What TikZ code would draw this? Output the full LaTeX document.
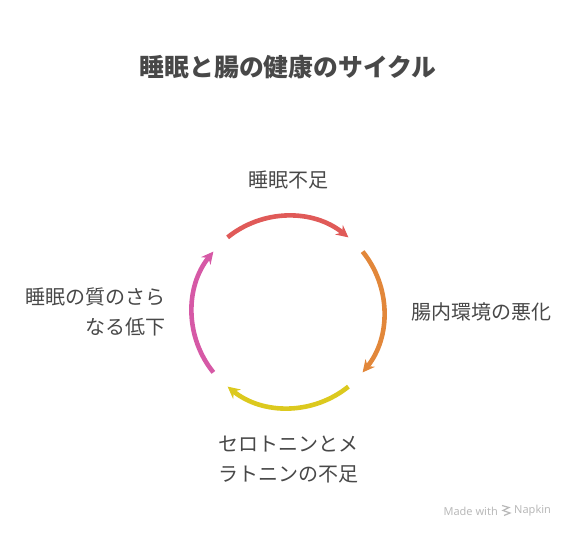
\documentclass[tikz,border=0pt]{standalone}
\usepackage{fontspec}
\setmainfont{Noto Sans CJK JP}
\newfontfamily\latinfont{Noto Sans}
\usetikzlibrary{arrows.meta,calc,positioning}
\definecolor{arcred}{HTML}{E05A58}
\definecolor{arcorange}{HTML}{E2873A}
\definecolor{arcyellow}{HTML}{DCC91E}
\definecolor{arcpink}{HTML}{D659A6}
\definecolor{textgray}{HTML}{484848}
\tikzset{
    cyclearc/.style={line width=4.6pt,-{Stealth[length=12pt,width=12pt]}},
    steplabel/.style={text=textgray,font=\fontsize{20}{30}\selectfont,inner sep=0pt,align=center},
    every node/.style={inner sep=0pt}
}

\begin{document}
\begin{tikzpicture}[x=1pt,y=1pt]
  \useasboundingbox (0,0) rectangle (576,538);

  % 中心
  \coordinate (C) at (288,226);

  % タイトル
  \node[text=textgray,font=\fontsize{24.8}{28}\selectfont\bfseries]
    (title) at (288,471) {睡眠と腸の健康のサイクル};

  % 矢印の円弧
  \draw[cyclearc,arcred]    ($(C)+(129:96)$) arc (129:51:96);
  \draw[cyclearc,arcorange] ($(C)+(39:96)$) arc (39:-39:96);
  \draw[cyclearc,arcyellow] ($(C)+(-51:96)$) arc (-51:-129:96);
  \draw[cyclearc,arcpink]   ($(C)+(-141:96)$) arc (-141:-219:96);

  % 各段階
  \node[steplabel] (sleep) at (288,358) {睡眠不足};
  \node[steplabel,anchor=west] (gut) at (411,226) {腸内環境の悪化};
  \node[steplabel] (sero) at (288,78) {セロトニンとメ\\ラトニンの不足};
  \node[steplabel,align=right,anchor=east] (quality) at (166,226) {睡眠の質のさら\\なる低下};

  % 透かし
  \node[text=gray!55,font=\latinfont\fontsize{11}{12}\selectfont,anchor=east]
    (made) at (498,27) {Made with};
  \node[text=gray!55,font=\latinfont\fontsize{11}{12}\selectfont,anchor=west]
    (napkin) at (514,27) {Napkin};
  \draw[gray!55,line width=1.2pt]
    (502,32.5) -- (509,30.5) -- (503,27.5) -- (510,25) -- (504,22.5);
\end{tikzpicture}
\end{document}
